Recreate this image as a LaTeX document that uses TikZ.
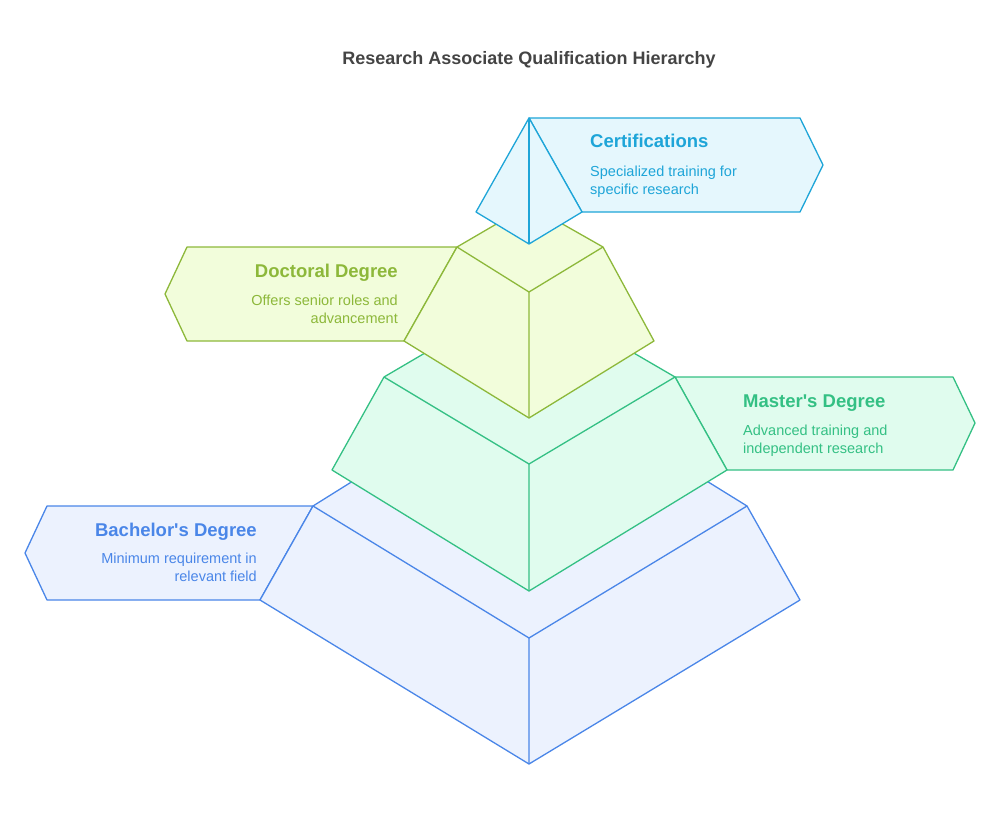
\documentclass[tikz,border=0pt]{standalone}
\usepackage{fontspec}
\setmainfont{Liberation Sans}
\definecolor{cB}{HTML}{4A86E8}\definecolor{fB}{HTML}{ECF2FE}
\definecolor{cG}{HTML}{34C084}\definecolor{fG}{HTML}{E0FCEE}
\definecolor{cY}{HTML}{8DB83A}\definecolor{fY}{HTML}{F2FDDB}
\definecolor{cC}{HTML}{1EA5D8}\definecolor{fC}{HTML}{E5F7FD}
\definecolor{tt}{HTML}{444444}
\tikzset{
 face/.style={line width=1.3pt,line join=round},
 hd/.style={font=\fontsize{18.5}{20}\selectfont\bfseries,inner sep=0pt},
 bd/.style={font=\fontsize{14.5}{18}\selectfont,inner sep=0pt,align=#1},
}
\begin{document}
\begin{tikzpicture}[x=1pt,y=-1pt]
\useasboundingbox (0,0) rectangle (1000,813);
\node[font=\fontsize{18}{20}\selectfont\bfseries,text=tt] (title) at (529,60) {Research Associate Qualification Hierarchy};
% Bachelor
\draw[face,draw=cB,fill=fB] (313,506) -- (47,506) -- (25,553) -- (47,600) -- (260,600) -- cycle;
\draw[face,draw=cB,fill=fB] (313,506) -- (529,371) -- (747,506) -- (800,600) -- (529,764) -- (260,600) -- cycle;
\draw[face,draw=cB] (313,506) -- (529,638) -- (747,506) (529,638) -- (529,764);
\node[hd,text=cB,anchor=base east] (bh) at (257,536) {Bachelor\textquotesingle s Degree};
\node[bd=right,text=cB,anchor=north east] (bt) at (257,553) {Minimum requirement in\\relevant field};
% Master
\draw[face,draw=cG,fill=fG] (675,377) -- (953,377) -- (975,423) -- (953,470) -- (727,470) -- cycle;
\draw[face,draw=cG,fill=fG] (384,377) -- (529,292) -- (675,377) -- (727,470) -- (529,591) -- (332,470) -- cycle;
\draw[face,draw=cG] (384,377) -- (529,464) -- (675,377) (529,464) -- (529,591);
\node[hd,text=cG,anchor=base west] (mh) at (743,407) {Master\textquotesingle s Degree};
\node[bd=left,text=cG,anchor=north west] (mt) at (743,425) {Advanced training and\\independent research};
% Doctoral
\draw[face,draw=cY,fill=fY] (457,247) -- (187,247) -- (165,294) -- (187,341) -- (404,341) -- cycle;
\draw[face,draw=cY,fill=fY] (457,247) -- (529,205) -- (603,247) -- (654,341) -- (529,418) -- (404,341) -- cycle;
\draw[face,draw=cY] (457,247) -- (529,292) -- (603,247) (529,292) -- (529,418);
\node[hd,text=cY,anchor=base east] (dh) at (398,277) {Doctoral Degree};
\node[bd=right,text=cY,anchor=north east] (dt) at (398,295) {Offers senior roles and\\advancement};
% Certifications
\draw[face,draw=cC,fill=fC] (529,118) -- (800,118) -- (823,165) -- (800,212) -- (582,212) -- cycle;
\draw[face,draw=cC,fill=fC] (529,118) -- (582,212) -- (529,244) -- (476,212) -- cycle;
\draw[face,draw=cC] (529,118) -- (529,244);
\node[hd,text=cC,anchor=base west] (ch) at (590,148) {Certifications};
\node[bd=left,text=cC,anchor=north west] (ct) at (590,166) {Specialized training for\\specific research};
\end{tikzpicture}
\end{document}
